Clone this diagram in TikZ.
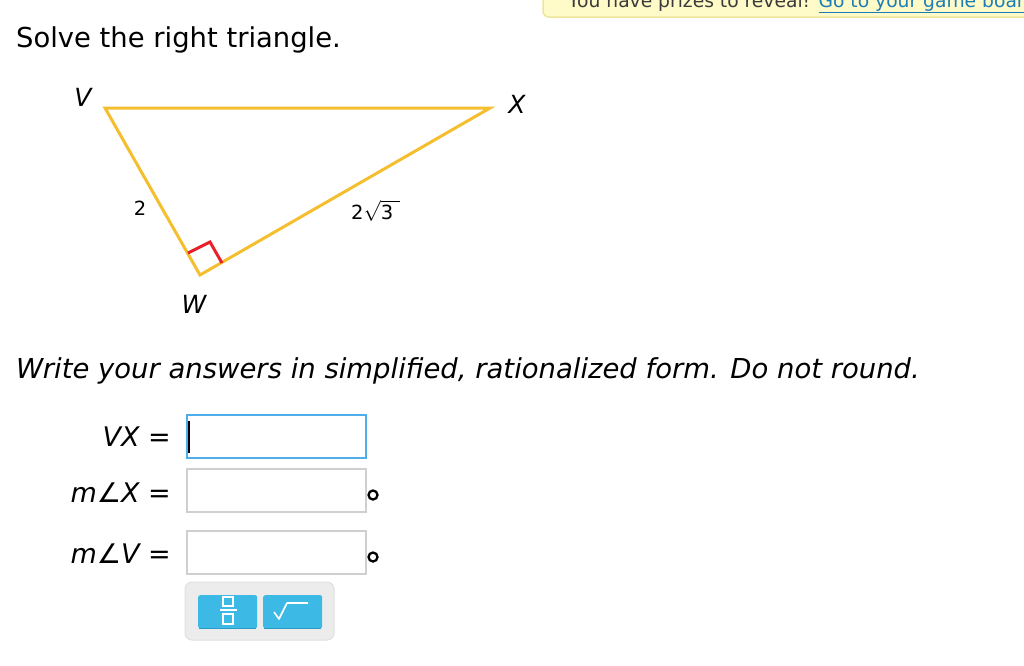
\documentclass[tikz,border=0pt]{standalone}
\usepackage{fontspec}
\setmainfont{DejaVu Sans}
\usepackage{tikz}
\usetikzlibrary{positioning}
\usetikzlibrary{calc}

\definecolor{triyellow}{HTML}{F4BE2E}
\definecolor{markred}{HTML}{E8202A}
\definecolor{boxgrey}{HTML}{CFCFCF}
\definecolor{boxblue}{HTML}{4DAEEA}
\definecolor{btnblue}{HTML}{3DB9E6}
\definecolor{btndark}{HTML}{2A9CC8}
\definecolor{panelgrey}{HTML}{ECECEC}
\definecolor{paneledge}{HTML}{E0E0E0}
\definecolor{bannerfill}{HTML}{FFFBC8}
\definecolor{banneredge}{HTML}{EEE49A}
\definecolor{bannertext}{HTML}{3A3A3A}
\definecolor{linkblue}{HTML}{1C7DB8}

\tikzset{
  ansbox/.style={draw=boxgrey, line width=1.5pt, fill=white, rectangle,
    minimum width=179pt, minimum height=43pt, anchor=north west, inner sep=0pt},
  degsign/.style={circle, draw=black, line width=2.3pt, inner sep=0pt, minimum size=9pt},
  btn/.style={rectangle, fill=btnblue, rounded corners=2pt, minimum width=59pt,
    minimum height=33pt, anchor=north west, inner sep=0pt},
  vertex/.style={font=\fontsize{25}{29}\selectfont\itshape, inner sep=0pt},
  sidelbl/.style={font=\fontsize{19.5}{22}\selectfont, inner sep=0pt},
  anslbl/.style={font=\fontsize{27}{32}\selectfont, anchor=base east, inner sep=0pt},
}

\begin{document}
\begin{tikzpicture}[x=1pt, y=-1pt]
  \useasboundingbox (0,0) rectangle (1024,665);
  \clip (0,0) rectangle (1024,665);

  % banner at the top
  \draw[fill=bannerfill, draw=banneredge, line width=1.5pt, rounded corners=6pt]
    (543,-30) rectangle (1060,17);
  \node[anchor=base west, inner sep=0pt, text=bannertext, font=\fontsize{18.7}{22}\selectfont]
    (prize) at (568,7) {You have prizes to reveal!};
  \node[anchor=base west, inner sep=0pt, text=linkblue, font=\fontsize{18.7}{22}\selectfont]
    (gamelink) at ([xshift=8pt]prize.base east) {\underline{Go to your game board}};

  % question
  \node[anchor=base west, inner sep=0pt, font=\fontsize{27.4}{32}\selectfont]
    (title) at (16,47) {Solve the right triangle.};

  % triangle
  \coordinate (V) at (105,108);
  \coordinate (X) at (490,108);
  \coordinate (W) at (200,275);
  \draw[triyellow, line width=3pt, line join=miter] (V) -- (X) -- (W) -- cycle;
  \draw[markred, line width=3pt] (188,253) -- (210,242) -- (222,263);

  \node[vertex] (vlbl) at (83,97) {V};
  \node[vertex] (xlbl) at (517,104) {X};
  \node[vertex] (wlbl) at (194,304) {W};
  \node[sidelbl] (vwlbl) at (140,208) {2};
  \node[sidelbl, anchor=base west] (wxlbl) at (351,219) {$\mbox{2}\sqrt{\mbox{3}\,\,}$};

  % instructions
  \node[anchor=base west, inner sep=0pt, font=\fontsize{27.45}{32}\selectfont\itshape]
    (instr) at (16,378) {Write your answers in simplified, rationalized form. Do not round.};

  % answer rows
  \node[anslbl] (vxlbl) at (171,446) {\itshape VX\upshape\ =};
  \node[anslbl] (mxlbl) at (171,502) {\itshape m∠X\upshape\ =};
  \node[anslbl] (mvlbl) at (171,563) {\itshape m∠V\upshape\ =};

  \node[ansbox, draw=boxblue] (vxbox) at (186,414) {};
  \node[ansbox] (mxbox) at (186,468) {};
  \node[ansbox] (mvbox) at (186,530) {};
  \draw[black, line width=2pt] (189,421) -- (189,453);

  \node[degsign] (mxdeg) at (373,495) {};
  \node[degsign] (mvdeg) at (373,557) {};

  % buttons
  \draw[fill=panelgrey, draw=paneledge, line width=1pt, rounded corners=7pt]
    (185,582) rectangle (334,640);
  \node[btn] (fracbtn) at (198,595) {};
  \node[btn] (sqrtbtn) at (263,595) {};
  \draw[btndark, line width=1.2pt] ([xshift=1pt]fracbtn.south west) -- ([xshift=-1pt]fracbtn.south east);
  \draw[btndark, line width=1.2pt] ([xshift=1pt]sqrtbtn.south west) -- ([xshift=-1pt]sqrtbtn.south east);

  \draw[white, line width=1.6pt] (223,597) rectangle (233,606);
  \draw[white, line width=1.6pt] (220,610) -- (237,610);
  \draw[white, line width=1.6pt] (223,614) rectangle (233,624);
  \draw[white, line width=1.6pt, line join=round] (274,612) -- (279,619) -- (287,603) -- (308,603);
\end{tikzpicture}
\end{document}
